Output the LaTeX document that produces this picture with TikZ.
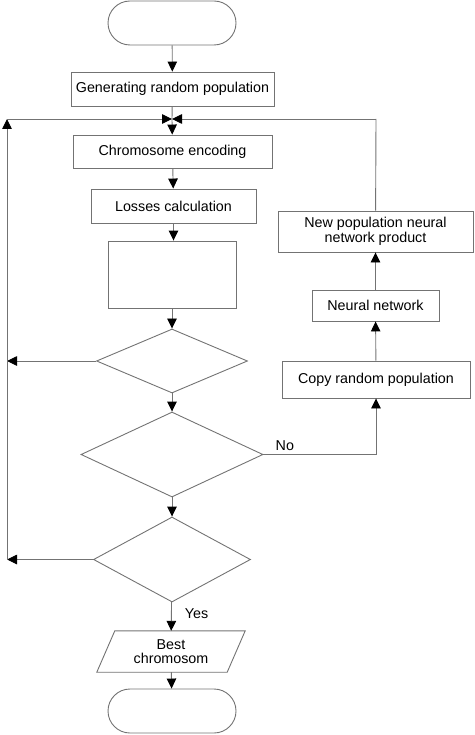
\documentclass[tikz,border=0pt]{standalone}
\usepackage{fontspec}
\setmainfont{Liberation Sans}
\usetikzlibrary{arrows.meta,shapes.geometric}
\definecolor{ln}{RGB}{115,115,115}
\tikzset{
  box/.style={draw=ln, line width=0.9pt, rectangle, inner sep=0pt, align=center, font=\fontsize{14.3}{15}\selectfont},
  term/.style={draw=ln, line width=0.9pt, rectangle, rounded corners=22pt, minimum width=128pt, minimum height=44pt, inner sep=0pt},
  dec/.style={draw=ln, line width=0.9pt, diamond, inner sep=0pt},
  con/.style={draw=ln, line width=0.9pt},
  arr/.style={con, -{Triangle[length=10pt,width=9.5pt,fill=black,color=black]}},
  lab/.style={font=\fontsize{14.3}{15}\selectfont, inner sep=0pt},
}
\begin{document}
\begin{tikzpicture}[x=1pt,y=-1pt]
\useasboundingbox (0,0) rectangle (474,735);
% main column
\node[term] (start) at (172,23) {};
\node[box, minimum width=203pt, minimum height=34pt] (gen) at (172.5,89) {Generating random population};
\coordinate (merge) at (172,119);
\node[box, minimum width=199pt, minimum height=33pt] (chrom) at (172.5,151.5) {Chromosome encoding};
\node[box, minimum width=165pt, minimum height=34pt] (loss) at (173.5,206) {Losses calculation};
\node[box, minimum width=128pt, minimum height=67pt] (blank) at (172,274.5) {};
\node[dec, minimum width=151pt, minimum height=64pt] (d1) at (172,361) {};
\node[dec, minimum width=182pt, minimum height=85pt] (d2) at (172,454.5) {};
\node[dec, minimum width=157pt, minimum height=85pt] (d3) at (172,559.5) {};
\node[rectangle, inner sep=0pt, minimum width=130pt, minimum height=41pt, align=center, font=\fontsize{14.3}{14}\selectfont] (best) at (171,651.5) {Best\\chromosom};
\draw[con] ([xshift=-9pt]best.south west) -- ([xshift=-9pt]best.south east) -- ([xshift=9pt]best.north east) -- ([xshift=9pt]best.north west) -- cycle;
\node[term] (end) at (172,711) {};
% right column
\node[box, minimum width=195pt, minimum height=41pt] (newpop) at (375.5,231.5) {New population neural\\network product};
\node[box, minimum width=127pt, minimum height=31pt] (nn) at (375.5,305.5) {Neural network};
\node[box, minimum width=188pt, minimum height=37pt] (copy) at (376,379.5) {Copy random population};
% coordinates
\coordinate (lt) at (7,119);
\coordinate (l1) at (7,361);
\coordinate (l3) at (7,559.5);
\coordinate (rt) at (376,119);
\coordinate (r2) at (376,454.5);
% connectors
\draw[arr] (start) -- (gen);
\draw[con] (gen) -- (merge);
\draw[arr] (merge) -- (chrom);
\draw[arr] (chrom) -- (loss);
\draw[arr] (loss) -- (blank.north -| loss);
\draw[arr] (blank) -- (d1);
\draw[arr] (d1) -- (d2);
\draw[arr] (d2) -- (d3);
\draw[arr] (d3) -- node[lab, right=13pt, pos=0.4] {Yes} (best);
\draw[arr] (best) -- (end);
\draw[arr] (d1.west) -- (l1);
\draw[arr] (d3.west) -- (l3);
\draw[arr] (l3) -- (lt);
\draw[arr] (lt) -- (merge);
\draw[con] (d2.east) -- node[lab, above=3pt, pos=0.19] {No} (r2);
\draw[arr] (r2) -- (copy);
\draw[arr] (copy) -- (nn);
\draw[arr] (nn) -- (newpop);
\draw[con] (newpop) -- (rt);
\draw[arr] (rt) -- (merge);
\end{tikzpicture}
\end{document}
